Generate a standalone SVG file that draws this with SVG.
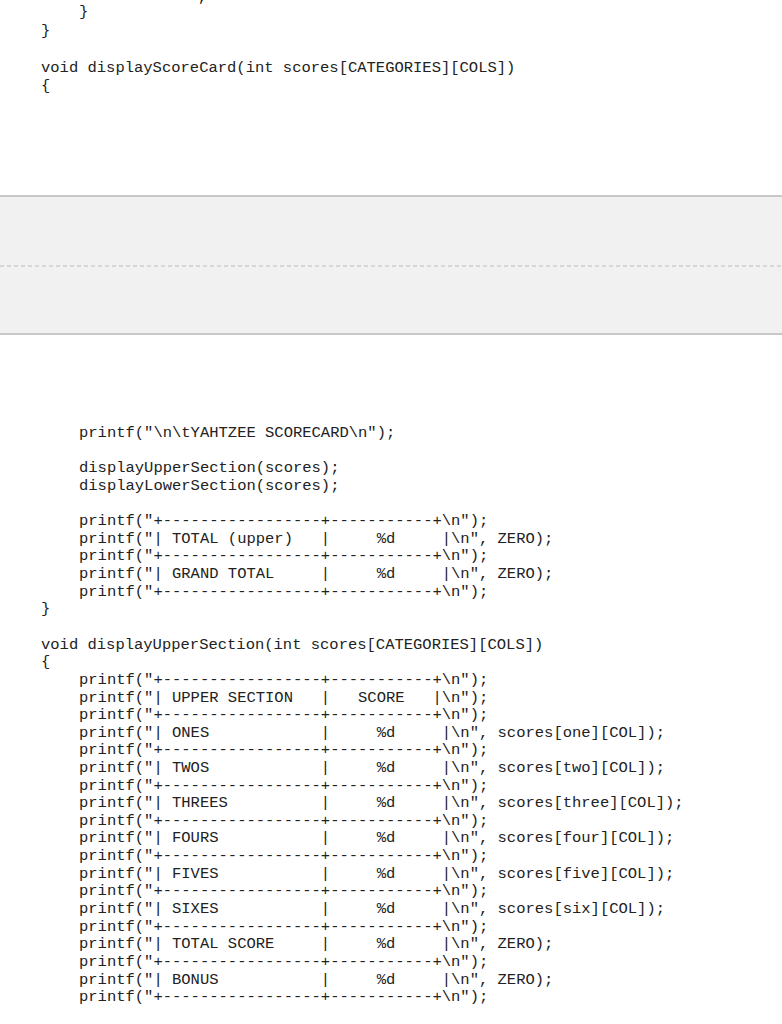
<svg xmlns="http://www.w3.org/2000/svg" width="782" height="1024" viewBox="0 0 782 1024">
<style>
text{font-family:"Liberation Mono","DejaVu Sans Mono",monospace;font-size:15.5px;fill:#222;white-space:pre}
</style>
<rect width="782" height="1024" fill="#fff"/>
<g id="band">
<rect x="0" y="196" width="782" height="138" fill="#f1f1f1"/>
<line x1="0" y1="196" x2="782" y2="196" stroke="#c8c8c8" stroke-width="2"/>
<line x1="0" y1="334" x2="782" y2="334" stroke="#c8c8c8" stroke-width="2"/>
<line x1="0" y1="266" x2="782" y2="266" stroke="#bbb" stroke-dasharray="4,3"/>
</g>
<g id="code-top" xml:space="preserve">
<text x="198" y="1">,</text>
<text x="79" y="16">}</text>
<text x="41" y="35">}</text>
<text x="41" y="72">void displayScoreCard(int scores[CATEGORIES][COLS])</text>
<text x="41" y="90">{</text>
</g>
<g id="code-bottom" xml:space="preserve">
<text x="79" y="437">printf("\n\tYAHTZEE SCORECARD\n");</text>
<text x="79" y="472">displayUpperSection(scores);</text>
<text x="79" y="490">displayLowerSection(scores);</text>
<text x="79" y="525">printf("+-----------------+-----------+\n");</text>
<text x="79" y="543">printf("| TOTAL (upper)   |     %d     |\n", ZERO);</text>
<text x="79" y="560">printf("+-----------------+-----------+\n");</text>
<text x="79" y="578">printf("| GRAND TOTAL     |     %d     |\n", ZERO);</text>
<text x="79" y="596">printf("+-----------------+-----------+\n");</text>
<text x="41" y="613">}</text>
<text x="41" y="649">void displayUpperSection(int scores[CATEGORIES][COLS])</text>
<text x="41" y="666">{</text>
<text x="79" y="684">printf("+-----------------+-----------+\n");</text>
<text x="79" y="702">printf("| UPPER SECTION   |   SCORE   |\n");</text>
<text x="79" y="719">printf("+-----------------+-----------+\n");</text>
<text x="79" y="737">printf("| ONES            |     %d     |\n", scores[one][COL]);</text>
<text x="79" y="754">printf("+-----------------+-----------+\n");</text>
<text x="79" y="772">printf("| TWOS            |     %d     |\n", scores[two][COL]);</text>
<text x="79" y="790">printf("+-----------------+-----------+\n");</text>
<text x="79" y="807">printf("| THREES          |     %d     |\n", scores[three][COL]);</text>
<text x="79" y="825">printf("+-----------------+-----------+\n");</text>
<text x="79" y="842">printf("| FOURS           |     %d     |\n", scores[four][COL]);</text>
<text x="79" y="860">printf("+-----------------+-----------+\n");</text>
<text x="79" y="878">printf("| FIVES           |     %d     |\n", scores[five][COL]);</text>
<text x="79" y="895">printf("+-----------------+-----------+\n");</text>
<text x="79" y="913">printf("| SIXES           |     %d     |\n", scores[six][COL]);</text>
<text x="79" y="931">printf("+-----------------+-----------+\n");</text>
<text x="79" y="948">printf("| TOTAL SCORE     |     %d     |\n", ZERO);</text>
<text x="79" y="966">printf("+-----------------+-----------+\n");</text>
<text x="79" y="984">printf("| BONUS           |     %d     |\n", ZERO);</text>
<text x="79" y="1001">printf("+-----------------+-----------+\n");</text>
</g>
</svg>
